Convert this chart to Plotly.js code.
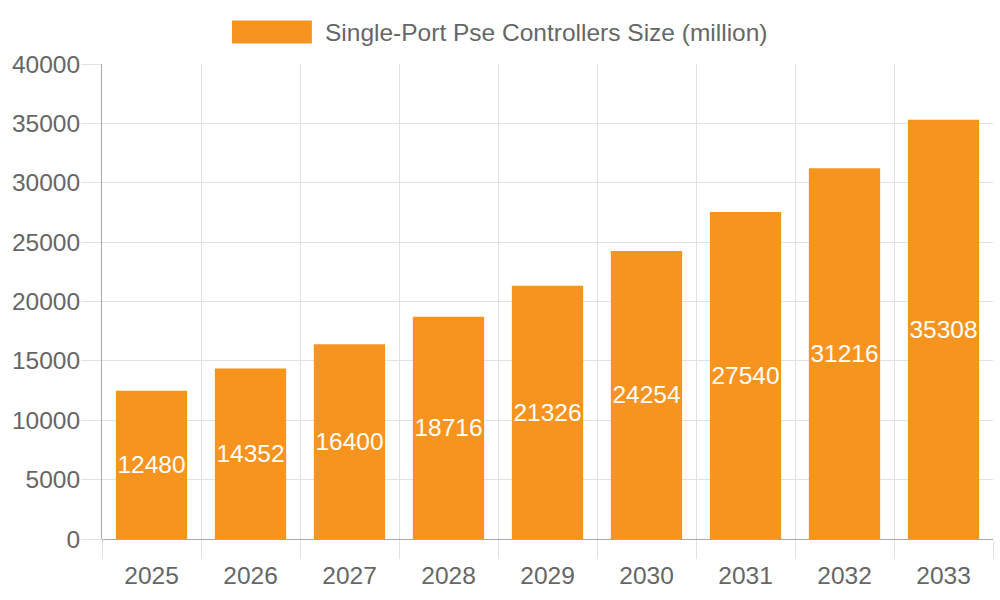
<!DOCTYPE html>
<html>
<head>
<meta charset="utf-8">
<script src="https://cdn.plot.ly/plotly-3.0.1.min.js"></script>
<style>html,body{margin:0;padding:0;background:#fff;}#chart{width:1000px;height:600px;}</style>
</head>
<body>
<div id="chart"></div>
<script>
const years = ["2025","2026","2027","2028","2029","2030","2031","2032","2033"];
const sizes = [12480, 14352, 16400, 18716, 21326, 24254, 27540, 31216, 35308];
const seriesName = "Single-Port Pse Controllers Size (million)";
const yTicks = [0, 5000, 10000, 15000, 20000, 25000, 30000, 35000, 40000];

const barColor = "#f7941f";
const textColor = "#666666";
const gridColor = "#e1e1e1";
const axisColor = "#a8a8a8";
const fontFamily = "'Liberation Sans', Arial, sans-serif";
const fs = 24.5;

const trace = {
  type: "bar",
  x: years,
  y: sizes,
  name: seriesName,
  text: sizes.map(v => String(v)),
  textposition: "inside",
  insidetextanchor: "middle",
  textangle: 0,
  constraintext: "none",
  textfont: {color: "#ffffff", size: fs, family: fontFamily},
  marker: {color: barColor, line: {width: 0}},
  hoverinfo: "x+y",
  showlegend: false
};

const layout = {
  width: 1000,
  height: 600,
  margin: {l: 102, r: 6.5, t: 63.5, b: 60.5, pad: 0},
  paper_bgcolor: "#ffffff",
  plot_bgcolor: "#ffffff",
  bargap: 0.28,
  font: {family: fontFamily, size: fs, color: textColor},
  uniformtext: {mode: "show", minsize: fs},
  xaxis: {
    type: "category",
    tickson: "boundaries",
    showgrid: true,
    gridcolor: gridColor,
    gridwidth: 1,
    ticks: "outside",
    ticklen: 19,
    tickcolor: gridColor,
    tickwidth: 1,
    showline: false,
    zeroline: false,
    ticklabelstandoff: 19,
    tickfont: {size: fs, color: textColor, family: fontFamily},
    fixedrange: true
  },
  yaxis: {
    range: [0, 40000],
    tickvals: yTicks,
    ticktext: yTicks.map(v => String(v)),
    showgrid: true,
    gridcolor: gridColor,
    gridwidth: 1,
    ticks: "outside",
    ticklen: 20,
    tickcolor: gridColor,
    tickwidth: 1,
    showline: true,
    linecolor: axisColor,
    linewidth: 1,
    zeroline: true,
    zerolinecolor: axisColor,
    zerolinewidth: 1,
    ticklabelstandoff: -4,
    tickfont: {size: fs, color: textColor, family: fontFamily},
    fixedrange: true
  },
  shapes: [{
    type: "rect",
    xref: "paper", yref: "paper",
    x0: (232 - 102) / 891.5, x1: (312 - 102) / 891.5,
    y0: 1 + (63.5 - 43) / 476, y1: 1 + (63.5 - 20) / 476,
    fillcolor: barColor,
    line: {width: 0}
  }],
  annotations: [{
    xref: "paper", yref: "paper",
    x: (323 - 102) / 891.5,
    y: 1 + (63.5 - 32) / 476,
    xanchor: "left", yanchor: "middle",
    text: seriesName,
    showarrow: false,
    font: {size: fs, color: textColor, family: fontFamily}
  }]
};

Plotly.newPlot("chart", [trace], layout, {displayModeBar: false, staticPlot: true});
</script>
</body>
</html>
